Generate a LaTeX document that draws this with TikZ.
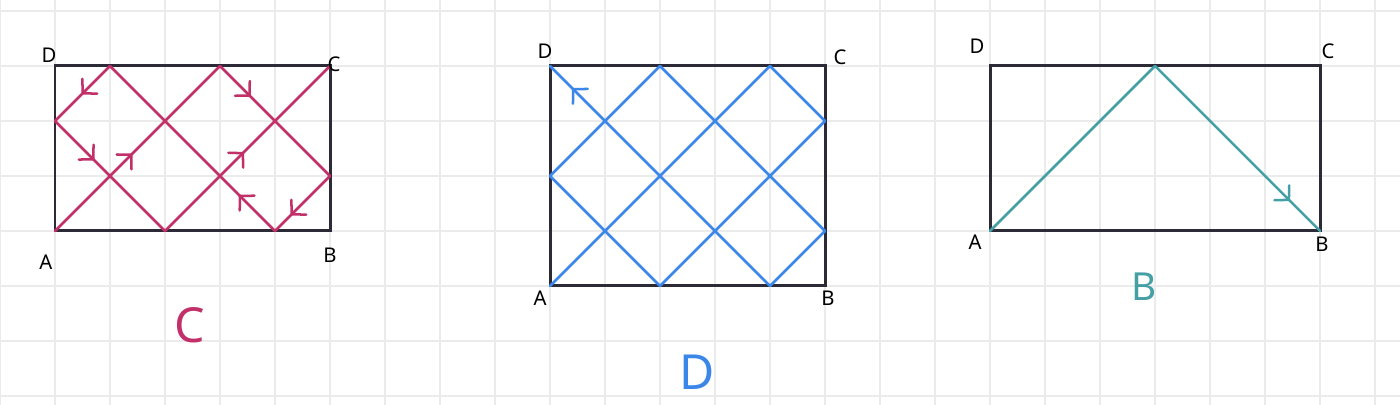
\documentclass[tikz,border=0pt]{standalone}
\usepackage{fontspec}
\setmainfont{Noto Sans}
\usepackage{tikz}
\usetikzlibrary{arrows.meta,decorations.markings}
\definecolor{gridgray}{HTML}{EBEBEB}
\definecolor{boxdark}{HTML}{2B2A36}
\definecolor{pathC}{HTML}{C2306A}
\definecolor{pathD}{HTML}{3A86E9}
\definecolor{pathB}{HTML}{45A0A6}
\tikzstyle{gridline}=[draw=gridgray, line width=0.75pt]
\tikzstyle{box}=[draw=boxdark, line width=1.55pt, line join=miter]
\tikzstyle{ray}=[line width=1.3pt, line cap=round, line join=round]
\tikzstyle{corner}=[inner sep=0pt, font=\fontsize{10.5}{12}\selectfont]
\tikzstyle{answer}=[inner sep=0pt, font=\fontsize{25}{30}\selectfont]
\tikzstyle{midarrow}=[postaction={decorate}, decoration={markings,
    mark=at position #1 with {\arrow{Straight Barb[length=5.2pt,width=10.8pt,line cap=round]}}}]

\begin{document}
\begin{tikzpicture}[x=1cm, y=1cm]
    \useasboundingbox (0,-0.1636) rectangle (25.4545,7.2);
    \draw[gridline] (0,-0.1636) grid (25.4545,7.2);
    % option C
    \coordinate (A1) at (1,3);  \coordinate (B1) at (6,3);
    \coordinate (C1) at (6,6);  \coordinate (D1) at (1,6);
    \coordinate (p11) at (4,6); \coordinate (p12) at (6,4);
    \coordinate (p13) at (5,3); \coordinate (p14) at (2,6);
    \coordinate (p15) at (1,5); \coordinate (p16) at (3,3);
    \draw[box] (A1) -- (B1) -- (C1) -- (D1) -- cycle;
    \draw[ray, pathC, midarrow=0.47] (A1) -- (p11);
    \draw[ray, pathC, midarrow=0.28] (p11) -- (p12);
    \draw[ray, pathC, midarrow=0.72] (p12) -- (p13);
    \draw[ray, pathC, midarrow=0.22] (p13) -- (p14);
    \draw[ray, pathC, midarrow=0.52] (p14) -- (p15);
    \draw[ray, pathC, midarrow=0.36] (p15) -- (p16);
    \draw[ray, pathC, midarrow=0.48] (p16) -- (C1);
    \node[corner] (lA1) at (0.836, 2.436) {A};
    \node[corner] (lB1) at (6.0, 2.564)   {B};
    \node[corner] (lC1) at (6.073, 6.036) {C};
    \node[corner] (lD1) at (0.891, 6.2)   {D};
    \node[answer, text=pathC] (optC) at (3.455, 1.291) {C};
    % option D
    \coordinate (A2) at (10,2); \coordinate (B2) at (15,2);
    \coordinate (C2) at (15,6); \coordinate (D2) at (10,6);
    \coordinate (p21) at (14,6); \coordinate (p22) at (15,5);
    \coordinate (p23) at (12,2); \coordinate (p24) at (10,4);
    \coordinate (p25) at (12,6); \coordinate (p26) at (15,3);
    \coordinate (p27) at (14,2);
    \draw[box] (A2) -- (B2) -- (C2) -- (D2) -- cycle;
    \draw[ray, pathD] (A2) -- (p21) -- (p22) -- (p23) -- (p24)
        -- (p25) -- (p26) -- (p27);
    \draw[ray, pathD, midarrow=0.9] (p27) -- (D2);
    \node[corner] (lA2) at (9.818, 1.782)  {A};
    \node[corner] (lB2) at (15.055, 1.782) {B};
    \node[corner] (lC2) at (15.273, 6.164) {C};
    \node[corner] (lD2) at (9.909, 6.273)  {D};
    \node[answer, text=pathD] (optD) at (12.673, 0.436) {D};
    % option B
    \coordinate (A3) at (18,3); \coordinate (B3) at (24,3);
    \coordinate (C3) at (24,6); \coordinate (D3) at (18,6);
    \coordinate (p31) at (21,6);
    \draw[box] (A3) -- (B3) -- (C3) -- (D3) -- cycle;
    \draw[ray, pathB] (A3) -- (p31);
    \draw[ray, pathB, midarrow=0.82] (p31) -- (B3);
    \node[corner] (lA3) at (17.727, 2.8)   {A};
    \node[corner] (lB3) at (24.036, 2.764) {B};
    \node[corner] (lC3) at (24.145, 6.273) {C};
    \node[corner] (lD3) at (17.764, 6.364) {D};
    \node[answer, text=pathB, font=\fontsize{20}{24}\selectfont] (optB) at (20.8, 1.982) {B};
\end{tikzpicture}
\end{document}
